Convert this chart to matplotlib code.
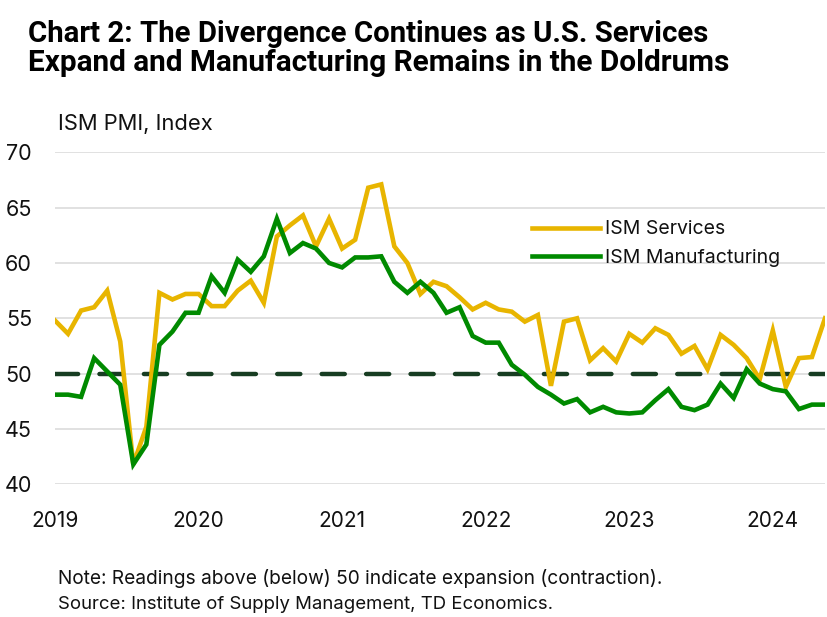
import matplotlib
matplotlib.use("Agg")
import matplotlib.pyplot as plt
import numpy as np

# ---- data ----
services = [54.8, 53.6, 55.7, 56.0, 57.5, 52.9, 41.8, 45.2, 57.3, 56.7, 57.2, 57.2, 56.1, 56.1, 57.5,
            58.4, 56.4, 62.4, 63.4, 64.3, 61.5, 64.0, 61.3, 62.1, 66.8, 67.1, 61.5, 60.0, 57.2,
            58.3, 57.9, 56.9, 55.8, 56.4, 55.8, 55.6, 54.7, 55.3, 48.9, 54.7, 55.0, 51.2, 52.3, 51.1,
            53.6, 52.8, 54.1, 53.5, 51.8, 52.5, 50.4, 53.5, 52.6, 51.4, 49.5, 53.9, 48.8, 51.4, 51.5, 55.0]
manufacturing = [48.1, 48.1, 47.9, 51.4, 50.2, 49.0, 41.8, 43.6, 52.6, 53.8, 55.5, 55.5, 58.8, 57.3, 60.3,
                 59.2, 60.6, 64.0, 60.9, 61.8, 61.3, 60.0, 59.6, 60.5, 60.5, 60.6, 58.3, 57.3, 58.3,
                 57.3, 55.5, 56.0, 53.4, 52.8, 52.8, 50.8, 49.9, 48.8, 48.1, 47.3, 47.7, 46.5, 47.0, 46.5,
                 46.4, 46.5, 47.6, 48.6, 47.0, 46.7, 47.2, 49.1, 47.8, 50.4, 49.1, 48.6, 48.4, 46.8, 47.2, 47.2]
year_labels = ["2019", "2020", "2021", "2022", "2023", "2024"]
year_tick_index = [0, 11, 22, 33, 44, 55]
y_ticks = [40, 45, 50, 55, 60, 65, 70]
threshold = 50
series_names = ["ISM Services", "ISM Manufacturing"]

W, H = 827, 617
fig = plt.figure(figsize=(W / 100, H / 100), dpi=100)
body_font = ["Inter", "DejaVu Sans"]
title_font = ["Roboto", "DejaVu Sans"]

def fx(px):
    return px / W

def fy(py):
    return 1 - py / H

ax = fig.add_axes([fx(55), fy(484.3), fx(825) - fx(55), fy(152.3) - fy(484.3)])
x = np.arange(len(services))

ax.set_xlim(0, len(services) - 1)
ax.set_ylim(40, 70)
ax.set_yticks(y_ticks)
ax.grid(axis="y", color="#d9d9d9", linewidth=1.1)
ax.set_axisbelow(True)
for s in ax.spines.values():
    s.set_visible(False)

ax.axhline(threshold, color="#173d22", linewidth=3.2, linestyle=(0, (5.2, 4.8)),
           dash_capstyle="round", zorder=2)
ax.plot(x, services, color="#E8B500", linewidth=3.3, label=series_names[0], zorder=3,
        solid_joinstyle="miter")
ax.plot(x, manufacturing, color="#008A00", linewidth=3.3, label=series_names[1], zorder=4,
        solid_joinstyle="miter")

ax.set_xticks(year_tick_index)
ax.set_xticklabels(year_labels)
ax.tick_params(axis="both", length=0, colors="#111111")
ax.tick_params(axis="x", pad=19, labelsize=15)
ax.tick_params(axis="y", pad=16.5, labelsize=15.5)
for lab in ax.get_xticklabels() + ax.get_yticklabels():
    lab.set_family(body_font)

leg = ax.legend(loc="upper left", bbox_to_anchor=(fx(514), fy(203)), bbox_transform=fig.transFigure,
                frameon=False, handlelength=3.5, handletextpad=0.3,
                labelspacing=0.55, prop={"family": body_font, "size": 14})
for t in leg.get_texts():
    t.set_color("#111111")

# Titles and notes
t1 = fig.text(fx(28), fy(42), "Chart 2: The Divergence Continues as U.S. Services",
              fontsize=20, fontweight="bold", family=title_font, va="baseline", color="#000000")
t2 = fig.text(fx(28), fy(71), "Expand and Manufacturing Remains in the Doldrums",
              fontsize=20, fontweight="bold", family=title_font, va="baseline", color="#000000")
t3 = fig.text(fx(58), fy(130), "ISM PMI, Index", fontsize=14.5, family=body_font,
              va="baseline", color="#111111")
t4 = fig.text(fx(58), fy(584), "Note: Readings above (below) 50 indicate expansion (contraction).",
              fontsize=11.5, family=body_font, va="baseline", color="#111111")
t5 = fig.text(fx(58), fy(609), "Source: Institute of Supply Management, TD Economics.",
              fontsize=11.5, family=body_font, va="baseline", color="#111111")

fig.canvas.draw()
renderer = fig.canvas.get_renderer()

def fit(t, target):
    w = t.get_window_extent(renderer).width
    t.set_fontsize(t.get_fontsize() * target / w)

fit(t1, 680)
fit(t2, 700)
fit(t3, 155)
fit(t4, 604)
fit(t5, 494)

fig.savefig("out.png", dpi=100, facecolor="white")
